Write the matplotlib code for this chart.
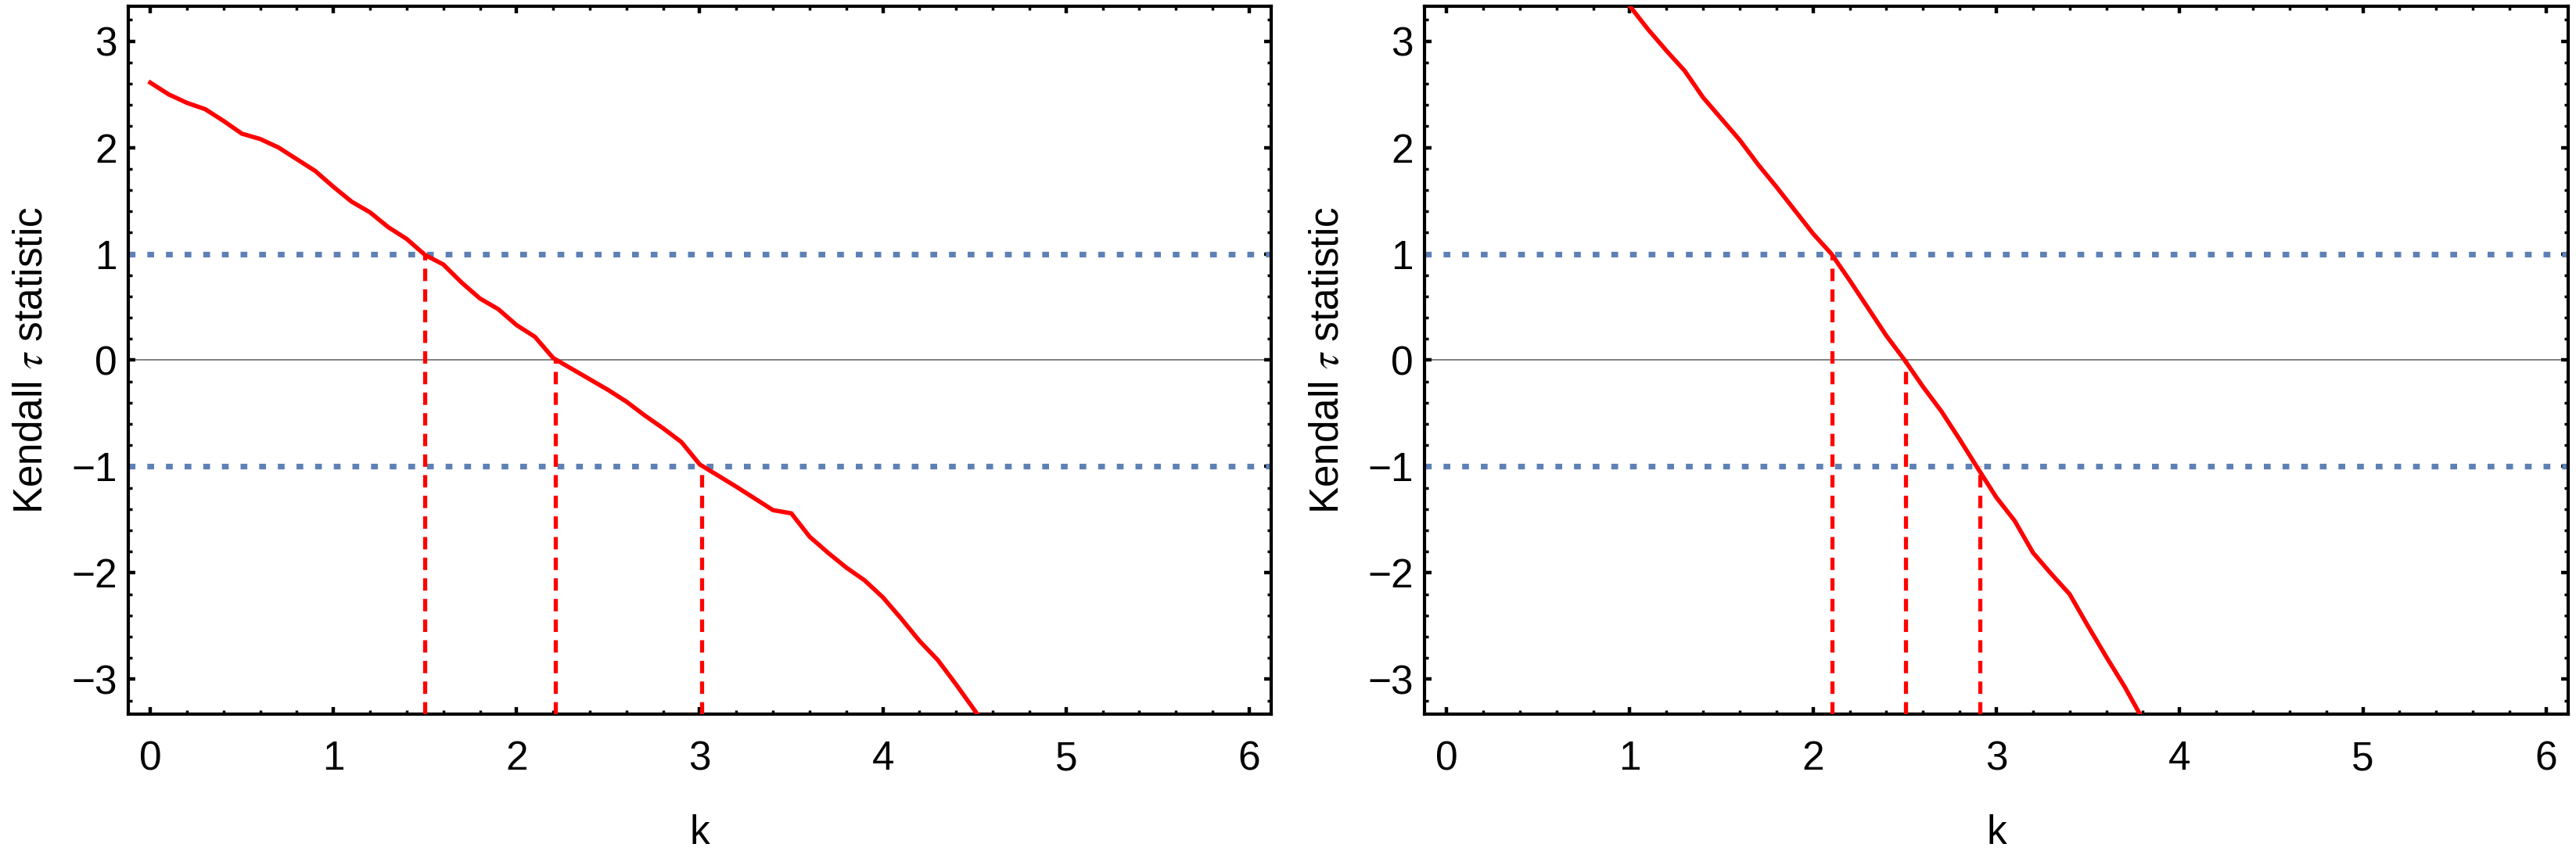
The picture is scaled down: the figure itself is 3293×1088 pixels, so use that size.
import matplotlib
matplotlib.use("Agg")
import matplotlib.pyplot as plt
from matplotlib.ticker import MultipleLocator

plt.rcParams['font.family'] = ['Liberation Sans', 'DejaVu Sans']
plt.rcParams['mathtext.fontset'] = 'stix'
plt.rcParams['axes.unicode_minus'] = True

# values, k in steps of 0.1
k_left = [0.0, 0.1, 0.2, 0.3, 0.4, 0.5, 0.6, 0.7, 0.8, 0.9,
          1.0, 1.1, 1.2, 1.3, 1.4, 1.5, 1.6, 1.7, 1.8, 1.9,
          2.0, 2.1, 2.2, 2.3, 2.4, 2.5, 2.6, 2.7, 2.8, 2.9,
          3.0, 3.1, 3.2, 3.3, 3.4, 3.5, 3.6, 3.7, 3.8, 3.9,
          4.0, 4.1, 4.2, 4.3, 4.4, 4.5, 4.6]
tau_left = [2.61, 2.50, 2.42, 2.36, 2.25, 2.13, 2.08, 2.00, 1.89, 1.78,
            1.63, 1.49, 1.39, 1.25, 1.14, 0.99, 0.90, 0.73, 0.58, 0.48,
            0.33, 0.22, 0.02, -0.08, -0.18, -0.28, -0.39, -0.52, -0.64, -0.77,
            -0.98, -1.085, -1.19, -1.30, -1.41, -1.44, -1.66, -1.81, -1.95, -2.07,
            -2.23, -2.43, -2.64, -2.82, -3.05, -3.29, -3.55]

k_right = [0.9, 1.0, 1.1, 1.2, 1.3, 1.4, 1.5, 1.6, 1.7, 1.8, 1.9,
           2.0, 2.1, 2.2, 2.3, 2.4, 2.5, 2.6, 2.7, 2.8, 2.9,
           3.0, 3.1, 3.2, 3.3, 3.4, 3.5, 3.6, 3.7, 3.8]
tau_right = [3.55, 3.33, 3.11, 2.91, 2.72, 2.47, 2.27, 2.07, 1.84, 1.63, 1.41,
             1.19, 1.00, 0.75, 0.49, 0.23, 0.00, -0.25, -0.48, -0.745, -1.02,
             -1.29, -1.51, -1.81, -2.01, -2.20, -2.50, -2.79, -3.07, -3.38]

# where the curve crosses the levels +1, 0, -1
levels = [1, 0, -1]
cross_left = [1.50, 2.21, 3.01]
cross_right = [2.105, 2.505, 2.91]

blue = '#5E81B5'
ylo, yhi = -3.328, 3.328

fig = plt.figure(figsize=(32.93, 10.88), dpi=100)
ax1 = fig.add_axes([0.0498, 0.16085, 0.44367, 0.8318])
ax2 = fig.add_axes([0.55299, 0.16085, 0.44397, 0.8318])

for ax, kk, tt, cross in [(ax1, k_left, tau_left, cross_left),
                          (ax2, k_right, tau_right, cross_right)]:
    ax.axhline(0, color='#808080', lw=1.4, zorder=1)
    for lev in [1, -1]:
        ax.axhline(lev, color=blue, lw=5.2, linestyle=(0, (1.2, 2.1)),
                   dash_capstyle='butt', zorder=2)
    for kc, lev in zip(cross, levels):
        ax.plot([kc, kc], [ylo, lev], color='red', lw=3.8,
                linestyle=(0, (3.0, 2.0)), dash_capstyle='butt', zorder=3)
    ax.plot(kk, tt, color='red', lw=4.0, zorder=4)

    ax.set_xlim(-0.12, 6.12)
    ax.set_ylim(ylo, yhi)
    ax.xaxis.set_major_locator(MultipleLocator(1))
    ax.xaxis.set_minor_locator(MultipleLocator(0.2))
    ax.yaxis.set_major_locator(MultipleLocator(1))
    ax.yaxis.set_minor_locator(MultipleLocator(0.2))
    ax.tick_params(which='both', direction='in', top=True, right=True,
                   labelsize=37, colors='black')
    ax.tick_params(which='major', length=6.5, width=3.2)
    ax.tick_params(which='minor', length=3.8, width=2.5)
    ax.tick_params(axis='x', pad=24)
    ax.tick_params(axis='y', pad=10)
    for sp in ax.spines.values():
        sp.set_linewidth(3.0)
    ax.set_xlabel('k', fontsize=37, labelpad=33)
    ax.set_ylabel(r'Kendall $\tau$ statistic', fontsize=37, labelpad=19)

fig.savefig('out.png', dpi=100)
